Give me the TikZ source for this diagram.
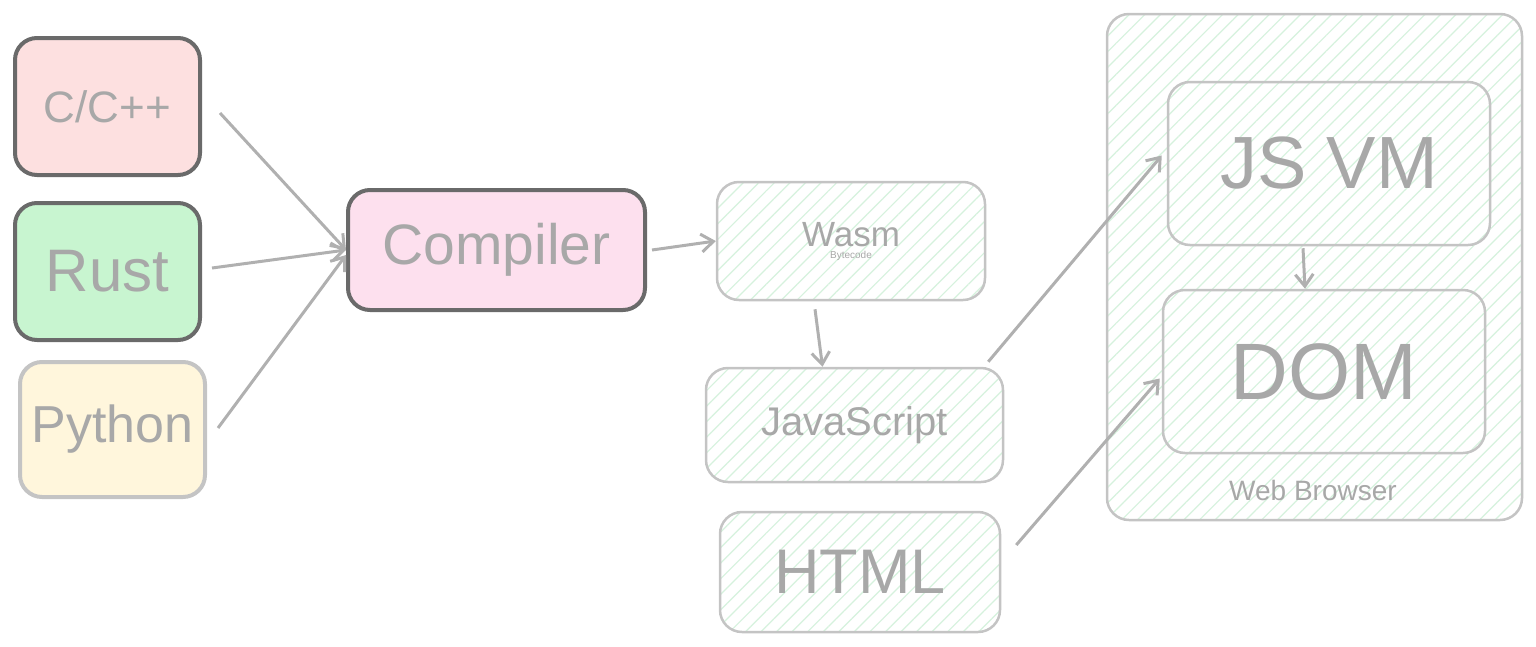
\documentclass[tikz,border=0pt]{standalone}
\usepackage{fontspec}
\setmainfont{Liberation Sans}
\usetikzlibrary{patterns.meta,arrows.meta}
\definecolor{txt}{HTML}{A8A8A8}
\definecolor{dark}{HTML}{6A6A6A}
\definecolor{light}{HTML}{C4C4C4}
\definecolor{hatch}{HTML}{D6F2DD}
\definecolor{cpink}{HTML}{FDE0E0}
\definecolor{cgreen}{HTML}{C8F5D0}
\definecolor{cyellow}{HTML}{FFF6DC}
\definecolor{cmag}{HTML}{FDE0EE}
\tikzset{
 x=1pt,y=-1pt,
 src/.style={draw=dark,line width=4pt,rounded corners=22pt,text=txt,align=center},
 hbox/.style={draw=light,line width=2.5pt,rounded corners=22pt,text=txt,align=center,
   preaction={fill=white},pattern={Lines[angle=45,distance=11pt,line width=1.2pt]},pattern color=hatch},
 conn/.style={draw=light!90!black,line width=3pt,-{Straight Barb[length=12pt,width=18pt]}}
}
\newcommand{\fs}[1]{\fontsize{#1}{#1}\selectfont}
\begin{document}
\begin{tikzpicture}
\useasboundingbox (0,0) rectangle (1536,646);
\node[hbox,minimum width=415pt,minimum height=506pt] (web) at (1314.5,267) {};
\node[text=txt,font=\fs{28}] (weblbl) at (1313,490) {Web Browser};
\node[src,fill=cpink,minimum width=185pt,minimum height=137pt] (c) at (107.5,106.5) {\fs{44}C/C++};
\node[src,fill=cgreen,minimum width=185pt,minimum height=137pt] (rust) at (107.5,271.5) {\fs{60}Rust};
\node[src,draw=light,fill=cyellow,minimum width=185pt,minimum height=135pt] (py) at (112.5,429.5) {\fs{52}Python};
\node[src,fill=cmag,minimum width=297pt,minimum height=120pt] (comp) at (496.5,250) {\fs{57}Compiler};
\node[hbox,minimum width=268pt,minimum height=118pt] (wasm) at (851,241) {\fontsize{35}{46}\selectfont Wasm\\Bytecode};
\node[hbox,minimum width=297pt,minimum height=114pt] (js) at (854.5,425) {\fs{40}JavaScript};
\node[hbox,minimum width=280pt,minimum height=120pt] (html) at (860,572) {\fs{63}HTML};
\node[hbox,minimum width=322pt,minimum height=163pt] (jsvm) at (1329,163.5) {\fs{74}JS VM};
\node[hbox,minimum width=322pt,minimum height=163pt] (dom) at (1324,371.5) {\fs{80}DOM};
\coordinate (ce) at (220,113);
\coordinate (re) at (212,268);
\coordinate (pe) at (218,428);
\draw[conn] (ce) -- (comp.west);
\draw[conn] (re) -- (comp.west);
\draw[conn] (pe) -- ([yshift=-5pt]comp.west);
\draw[conn] ([xshift=5pt]comp.east) -- (wasm.west);
\draw[conn] ([xshift=-36pt,yshift=-8pt]wasm.south) -- ([xshift=-32pt]js.north);
\draw[conn] ([xshift=-16pt,yshift=5pt]js.north east) -- ([xshift=-5pt,yshift=8pt]jsvm.west);
\draw[conn] ([xshift=15pt,yshift=27pt]html.east) -- ([xshift=-2pt,yshift=-7pt]dom.west);
\draw[conn] ([xshift=-26pt,yshift=-2pt]jsvm.south) -- ([xshift=-19pt]dom.north);
\end{tikzpicture}
\end{document}
